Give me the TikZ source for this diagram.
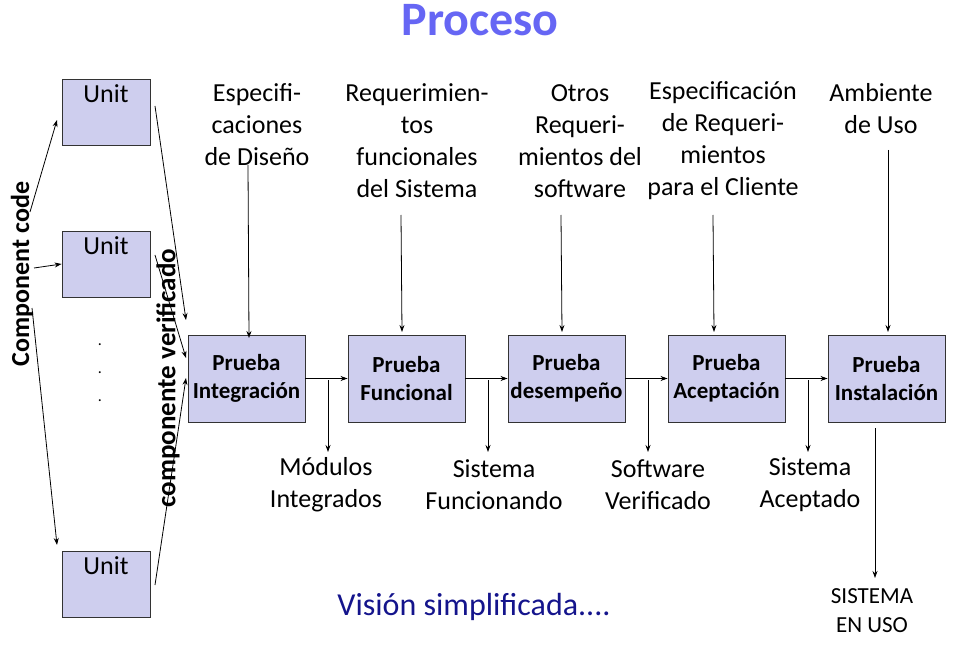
\documentclass[tikz,border=0pt]{standalone}
\usepackage{fontspec}
\setmainfont{Carlito}
\usetikzlibrary{arrows.meta}
\definecolor{boxc}{RGB}{206,206,238}
\definecolor{titc}{RGB}{102,102,244}
\definecolor{navy}{RGB}{20,20,140}
\begin{document}
\begin{tikzpicture}[x=1pt,y=-1pt,
  box/.style={draw=black!80,fill=boxc,line width=0.9pt,minimum width=117pt,minimum height=87pt,inner sep=0pt,font=\fontsize{23}{28}\selectfont\bfseries,align=center},
  ubox/.style={draw=black!80,fill=boxc,line width=0.9pt,minimum width=88pt,minimum height=66pt,inner sep=0pt},
  lbl/.style={font=\fontsize{26}{32}\selectfont,align=center},
  arr/.style={-{Stealth[length=7pt,width=5pt]},line width=0.8pt}]
\useasboundingbox (0,0) rectangle (959,647);
\node[font=\fontsize{48}{52}\selectfont\bfseries,text=titc] (title) at (480,20) {Proceso};
% units
\node[ubox] (u1) at (106,112) {};
\node[ubox] (u2) at (106,264) {};
\node[ubox] (u3) at (106,584) {};
\foreach \u in {u1,u2,u3}{\node[lbl,anchor=north] at ([yshift=-3]\u.north) {Unit};}
\foreach \y in {345,373,401}{\node[font=\fontsize{16}{16}\selectfont] at (100,\y) {.};}
\node[font=\fontsize{26}{28}\selectfont\bfseries,rotate=90] (cc) at (22,274) {Component code};
\node[font=\fontsize{27}{28}\selectfont\bfseries,rotate=90] (cv) at (168,378) {componente verificado};
\coordinate (c1) at (30,212); \coordinate (c2) at (34,268); \coordinate (c3) at (32,308);
\draw[arr] (c1) -- (57,120);
\draw[arr] (c2) -- (u2.west);
\draw[arr] (c3) -- (57,545);
% prueba boxes
\node[box] (p1) at (246.5,378.5) {Prueba\\Integración};
\node[box] (p2) at (406.5,378.5) {Prueba\\Funcional};
\node[box] (p3) at (566.5,378.5) {Prueba\\desempeño};
\node[box] (p4) at (726.5,378.5) {Prueba\\Aceptación};
\node[box] (p5) at (886.5,378.5) {Prueba\\Instalación};
\coordinate (o1) at (155,106); \coordinate (o2) at (155,255); \coordinate (o3) at (155,585);
\draw[arr] (o1) -- (186,320);
\draw[arr] (o2) -- (186,358);
\draw[arr] (o3) -- (186,378);
\draw[arr] (p1) -- (p2); \draw[arr] (p2) -- (p3); \draw[arr] (p3) -- (p4); \draw[arr] (p4) -- (p5);
% top labels
\node[lbl] (t1) at (257,125) {Especifi-\\caciones\\de Diseño};
\node[lbl] (t2) at (417,141) {Requerimien-\\tos\\funcionales\\del Sistema};
\node[lbl] (t3) at (580,141) {Otros\\Requeri-\\mientos del\\software};
\node[lbl] (t4) at (723,141) {Especificación\\de Requeri-\\mientos\\para el Cliente};
\node[lbl] (t5) at (881,109) {Ambiente\\de Uso};
\draw[arr] (248,165) -- (249,338);
\draw[arr] (401,215) -- (402,332);
\draw[arr] (561,215) -- (562,332);
\draw[arr] (713,215) -- (714,332);
\draw[arr] (888,150) -- (888,332);
% bottom outputs
\foreach \x in {328,488,648,808}{\draw[arr] (\x,380) -- (\x,452);}
\node[lbl] (b1) at (326,485) {Módulos\\Integrados};
\node[lbl] (b2) at (494,485) {Sistema\\Funcionando};
\node[lbl] (b3) at (658,485) {Software\\Verificado};
\node[lbl] (b4) at (810,485) {Sistema\\Aceptado};
\node[font=\fontsize{23}{29}\selectfont,align=center] (b5) at (872,611) {SISTEMA\\EN USO};
\draw[arr] (875,428) -- (875,578);
\node[font=\fontsize{32}{34}\selectfont,text=navy] (vis) at (474,607) {Visión simplificada....};
\end{tikzpicture}
\end{document}
